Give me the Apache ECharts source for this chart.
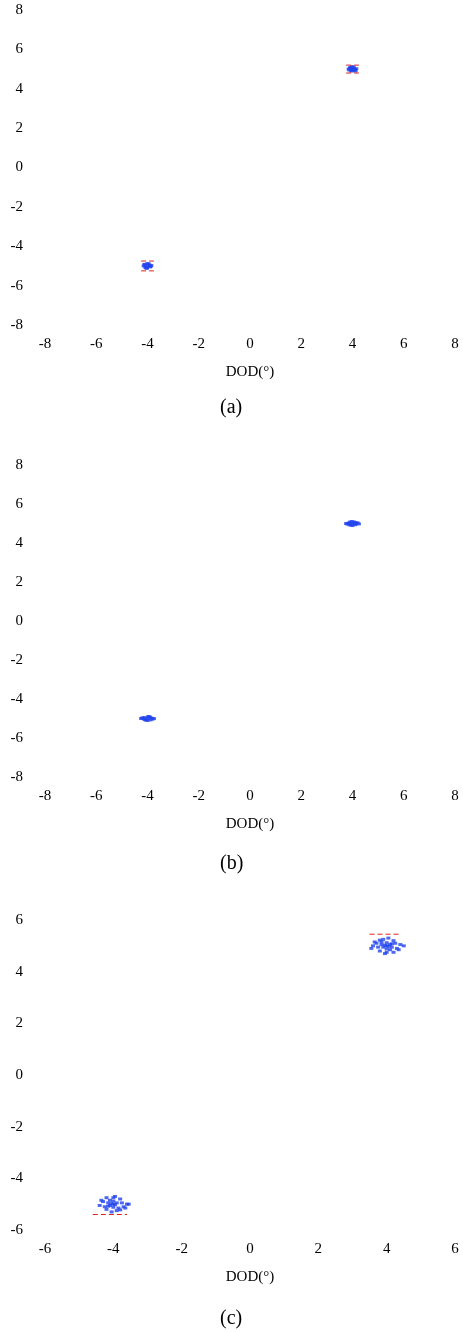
<!DOCTYPE html><html><head><meta charset="utf-8">
<script src="https://cdn.jsdelivr.net/npm/echarts@6/dist/echarts.min.js"></script>
<style>html,body{margin:0;background:#fff}#c{width:463px;height:1332px}</style></head><body><div id="c"></div>
<script>
const ticksA = [-8,-6,-4,-2,0,2,4,6,8];
const ticksC = [-6,-4,-2,0,2,4,6];
const clusterA1 = [[4,5],[3.9,5.05],[4.1,4.95],[3.95,4.9],[4.05,5.1],[3.85,5],[4.15,5.02],[4,4.92],[3.92,5.08],[4.08,4.98],[3.98,5.12],[4.12,4.9],[3.88,4.95],[4.02,5.04]];
const clusterA2 = [[-4,-5],[-4.1,-4.95],[-3.9,-5.05],[-3.95,-4.9],[-4.05,-5.1],[-4.15,-5],[-3.85,-4.98],[-4,-4.88],[-4.08,-5.08],[-3.92,-4.96],[-4.02,-5.12],[-4.12,-4.92],[-3.88,-5.02]];
const clusterB1 = [[4,5],[3.85,5.02],[4.15,4.98],[3.95,4.92],[4.05,5.08],[3.8,4.97],[4.2,5.03],[4,4.9],[3.9,5.07],[4.1,4.94],[3.97,5.1],[4.12,5.05],[3.88,4.93],[4.25,4.98],[3.75,5.0]];
const clusterB2 = [[-4,-5],[-3.85,-4.98],[-4.15,-5.02],[-3.95,-4.92],[-4.05,-5.08],[-3.8,-5.03],[-4.2,-4.97],[-4,-5.1],[-3.9,-4.93],[-4.1,-5.06],[-3.97,-4.9],[-4.12,-4.95],[-3.88,-5.07],[-4.25,-5.0],[-3.75,-5.0]];
const clusterC1 = [[4,5],[3.7,5.1],[4.3,4.9],[3.8,4.8],[4.2,5.2],[3.6,5],[4.4,5.05],[4,4.75],[3.9,5.25],[4.1,4.85],[3.75,4.95],[4.25,5.1],[3.85,5.15],[4.15,4.95],[4.05,5.3],[3.95,4.7],[4.35,4.85],[3.65,5.15],[4.5,5.0],[3.55,4.9],[4.1,5.05],[3.9,4.95],[4.2,4.75],[3.8,5.22],[4.0,5.12],[4.0,4.88],[3.95,5.02],[4.05,4.98],[3.85,5.05],[4.15,5.08]];
const clusterC2 = [[-4,-5],[-3.7,-5.1],[-4.3,-4.9],[-3.8,-4.8],[-4.2,-5.2],[-3.6,-5],[-4.4,-5.05],[-4,-4.75],[-3.9,-5.25],[-4.1,-4.85],[-3.75,-4.95],[-4.25,-5.1],[-3.85,-5.15],[-4.15,-4.95],[-4.05,-5.3],[-3.95,-4.7],[-4.35,-4.85],[-3.65,-5.15],[-3.55,-5.0],[-4.1,-5.05],[-3.9,-4.95],[-4.2,-4.75],[-3.8,-5.22],[-4.0,-5.12],[-4.0,-4.88],[-3.95,-5.02],[-4.05,-4.98],[-4.15,-5.08]];
const redA = [[[3.75,5.2],[4.25,5.2]],[[3.75,4.8],[4.25,4.8]],[[-4.25,-4.75],[-3.75,-4.75]],[[-4.25,-5.25],[-3.75,-5.25]]];
const redC = [[[3.5,5.45],[4.4,5.45]],[[-4.6,-5.4],[-3.6,-5.4]]];

const font = 'Liberation Serif';
const g = {outerBoundsMode:'none',containLabel:false};
const grids = [{...g,left:45,width:410,top:10,height:315},{...g,left:45,width:410,top:465,height:312},{...g,left:45,width:410,top:920,height:310}];
function xa(i,min,max){return {gridIndex:i,type:'value',min,max,interval:2,name:'DOD(°)',nameLocation:'middle',nameGap:40,
 nameTextStyle:{fontFamily:font,fontSize:15,color:'#000'},axisLine:{show:false},axisTick:{show:false},splitLine:{show:false},
 axisLabel:{fontFamily:font,fontSize:15,color:'#000',margin:12}};}
function ya(i,min,max){return {gridIndex:i,type:'value',min,max,interval:2,name:'DOA(°)',nameLocation:'middle',nameGap:30,
 nameTextStyle:{fontFamily:font,fontSize:15,color:'#000'},axisLine:{show:false},axisTick:{show:false},splitLine:{show:false},
 axisLabel:{fontFamily:font,fontSize:15,color:'#000',margin:22}};}
const series=[];
function pts(i,d){series.push({type:'scatter',xAxisIndex:i,yAxisIndex:i,data:d,symbol:'rect',symbolSize:[4,3],itemStyle:{color:'#2244ee'},silent:true});}
function red(i,segs){segs.forEach(s=>series.push({type:'line',xAxisIndex:i,yAxisIndex:i,data:s,symbol:'none',lineStyle:{color:'#dd2222',type:[5,3],width:1},z:3}));}
pts(0,clusterA1);pts(0,clusterA2);red(0,redA);
pts(1,clusterB1);pts(1,clusterB2);
pts(2,clusterC1);pts(2,clusterC2);red(2,redC);
const ch=echarts.init(document.getElementById('c'));
ch.setOption({animation:false,grid:grids,
 xAxis:[xa(0,-8,8),xa(1,-8,8),xa(2,-6,6)],
 yAxis:[ya(0,-8,8),ya(1,-8,8),ya(2,-6,6)],
 series,
 graphic:[{type:'text',left:220,top:398,style:{text:'(a)',font:'20px Liberation Serif',fill:'#000'}},
 {type:'text',left:220,top:854,style:{text:'(b)',font:'20px Liberation Serif',fill:'#000'}},
 {type:'text',left:220,top:1309,style:{text:'(c)',font:'20px Liberation Serif',fill:'#000'}}]});
</script></body></html>
